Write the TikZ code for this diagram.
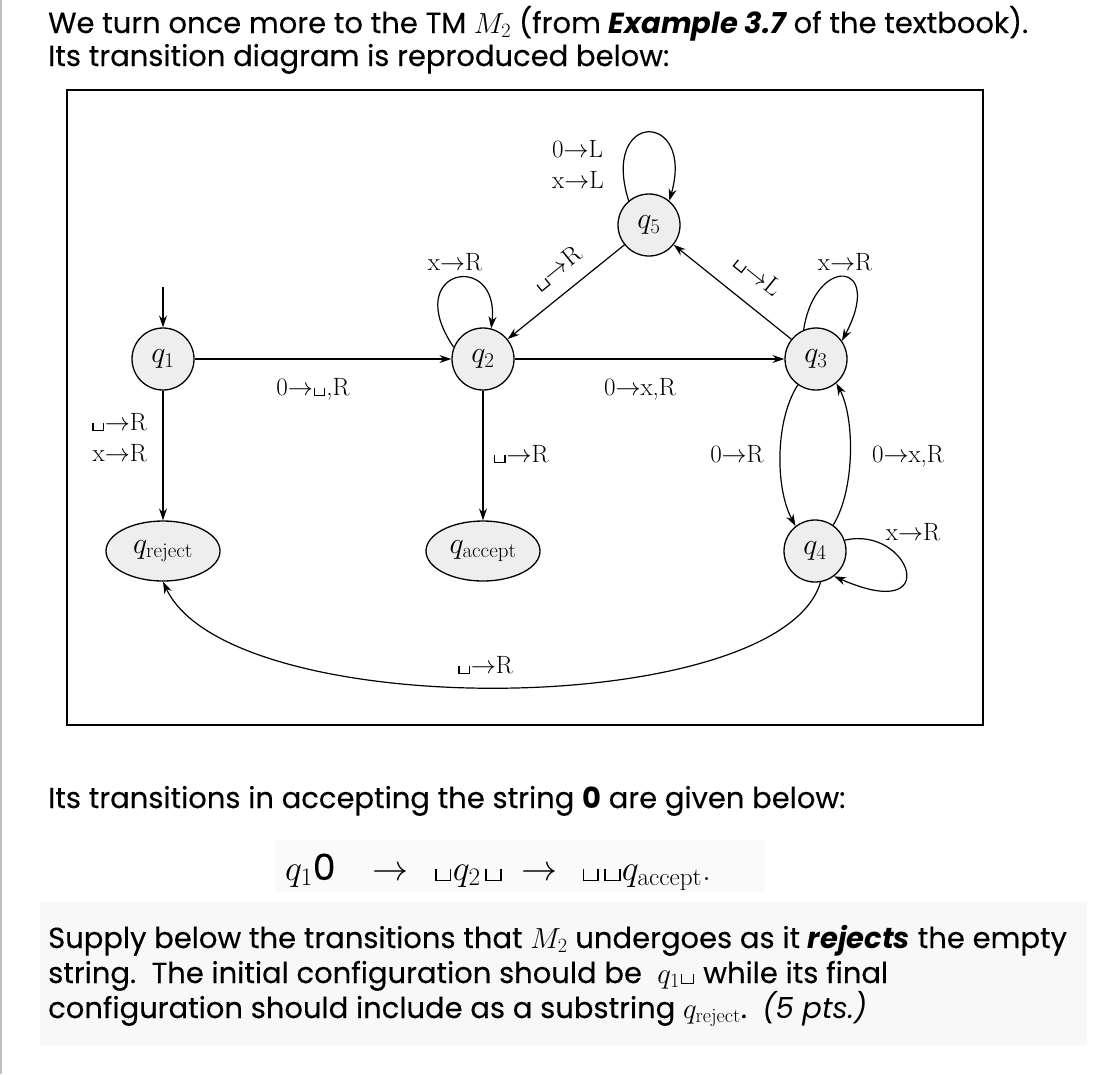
\documentclass[tikz,border=0pt]{standalone}
\usepackage{fix-cm}
\usepackage{fontspec}
\usetikzlibrary{arrows.meta,shapes.geometric}
\newfontfamily\gothic[UprightFeatures={FakeBold=0.3}]{Poppins}
\newcommand\blank{\kern0.04em\rule[-0.04em]{0.05em}{0.34em}\rule[-0.04em]{0.36em}{0.05em}\rule[-0.04em]{0.05em}{0.34em}\kern0.04em}
\definecolor{nodefill}{HTML}{EEEEEE}
\definecolor{parbg}{HTML}{F8F8F8}
\definecolor{formbg}{HTML}{FAFAFA}
\tikzset{
  state/.style={circle, draw, line width=1.3pt, fill=nodefill, minimum size=62pt,
    inner sep=0pt, font=\fontsize{30}{36}\selectfont},
  halt/.style={ellipse, draw, line width=1.3pt, fill=nodefill, minimum width=114pt,
    minimum height=60pt, inner sep=0pt, font=\fontsize{30}{36}\selectfont},
  lbl/.style={inner sep=0pt, font=\fontsize{25}{31}\selectfont},
  edge/.style={-{Stealth[length=12pt,width=8pt]}, line width=1.2pt},
  txt/.style={inner sep=0pt, anchor=base west, font=\gothic\fontsize{29}{34}\selectfont},
}
\begin{document}
\begin{tikzpicture}[x=1pt,y=1pt]
\useasboundingbox (0,0) rectangle (1094,-1074);
\fill[white] (0,0) rectangle (1094,-1074);
\draw[black!25, line width=2pt] (1,0) -- (1,-1074);
\fill[parbg] (40,-902) rectangle (1087,-1045);
\fill[formbg] (275,-840) rectangle (765,-892);

% text
\node[txt] (t1) at (48,-33) {We turn once more to the TM $M_2$ (from {\bfseries\itshape Example 3.7} of the textbook).};
\node[txt] (t2) at (48,-66) {Its transition diagram is reproduced below:};
\node[txt] (t3) at (48,-808) {Its transitions in accepting the string {\bfseries 0} are given below:};
\node[anchor=base west, inner sep=0pt, font=\fontsize{36}{42}\selectfont] (form) at (285,-880)
  {$q_1${\gothic 0}\hspace{37pt}$\rightarrow$\hspace{25pt}\blank$q_2$\hspace{3pt}\blank\hspace{18pt}$\rightarrow$\hspace{24pt}\blank\hspace{2pt}\blank$q_{\mathrm{accept}}$.};
\node[txt] (b1) at (48,-948) {Supply below the transitions that $M_2$ undergoes as it {\bfseries\itshape rejects} the empty};
\node[txt] (b2) at (48,-983) {string.\ \ The initial configuration should be \ $q_1$\blank\ while its final};
\node[txt] (b3) at (48,-1018) {configuration should include as a substring $q_{\mathrm{reject}}$.\ \ {\itshape (5 pts.)}};

% frame
\draw[line width=2pt] (67,-90) rectangle (983,-725);

% states
\node[state] (q1) at (163,-359) {$q_1$};
\node[state] (q2) at (483,-359) {$q_2$};
\node[state] (q5) at (649,-225) {$q_5$};
\node[state] (q3) at (816,-359) {$q_3$};
\node[state] (q4) at (815,-551) {$q_4$};
\node[halt] (qr) at (163,-551) {$q_{\mathrm{reject}}$};
\node[halt] (qa) at (483,-551) {$q_{\mathrm{accept}}$};
\coordinate (init) at (163,-287);

% edges
\draw[edge] (init) -- (q1);
\draw[edge] (q1) -- (q2);
\draw[edge] (q2) -- (q3);
\draw[edge] (q1) -- (qr);
\draw[edge] (q2) -- (qa);
\draw[edge] (q5) -- (q2);
\draw[edge] (q3) -- (q5);
\draw[edge] (q2.158) .. controls (400,-268) and (500,-250) .. (q2.75);
\draw[edge] (q5.130) .. controls (600,-110) and (695,-110) .. (q5.50);
\draw[edge] (q3.113) .. controls (815,-255) and (885,-260) .. (q3.35);
\draw[edge] (q3.235) .. controls (775,-420) and (775,-488) .. (q4.128);
\draw[edge] (q4.55) .. controls (855,-490) and (855,-418) .. (q3.-50);
\draw[edge] (q4.20) .. controls (910,-525) and (945,-625) .. (q4.-53);
\draw[edge] (q4.-80) .. controls (780,-720) and (230,-725) .. (qr.south);

% labels
\node[lbl, anchor=base] (l12) at (313,-395) {0$\rightarrow$\blank,R};
\node[lbl, anchor=base] (l23) at (640,-395) {0$\rightarrow$x,R};
\node[lbl, anchor=base] (l22) at (455,-270) {x$\rightarrow$R};
\node[lbl, align=left] (l55) at (578,-164.5) {0$\rightarrow$L\\x$\rightarrow$L};
\node[lbl, rotate=38.9] (l52) at (557,-268) {\blank$\rightarrow$R};
\node[lbl, rotate=-38.9] (l35) at (758,-275) {\blank$\rightarrow$L};
\node[lbl, anchor=base] (l33) at (845,-270) {x$\rightarrow$R};
\node[lbl, anchor=east, align=right] (l1r) at (147,-437.5) {\blank$\rightarrow$R\\x$\rightarrow$R};
\node[lbl, anchor=base west] (l2a) at (493,-462) {\blank$\rightarrow$R};
\node[lbl, anchor=base] (l34) at (737,-462) {0$\rightarrow$R};
\node[lbl, anchor=base] (l43) at (908,-462) {0$\rightarrow$x,R};
\node[lbl, anchor=base] (l44) at (913,-540) {x$\rightarrow$R};
\node[lbl, anchor=base] (l4r) at (485,-673) {\blank$\rightarrow$R};
\end{tikzpicture}
\end{document}
